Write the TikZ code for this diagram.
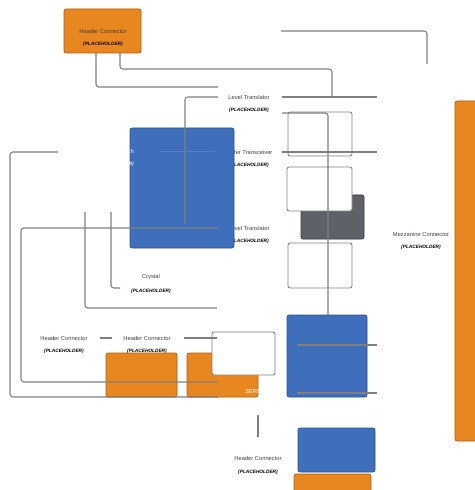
\documentclass[tikz,border=0pt]{standalone}
\usepackage{fontspec}
\setmainfont{Liberation Sans}
\usepackage{xcolor}
\pgfdeclarelayer{textlayer}
\pgfdeclarelayer{nodelayer}
\pgfdeclarelayer{edgelayer}
\pgfsetlayers{textlayer,nodelayer,main,edgelayer}
\definecolor{boxorange}{HTML}{E8871F}
\definecolor{orangeline}{HTML}{A85E14}
\definecolor{boxblue}{HTML}{3F6FBA}
\definecolor{blueline}{HTML}{2C5292}
\definecolor{boxdark}{HTML}{5E6268}
\definecolor{darkline}{HTML}{35383C}
\definecolor{wiregray}{HTML}{7F7F7F}
\definecolor{labelgray}{HTML}{404040}
\tikzset{
	orange box/.style={draw=orangeline, fill=boxorange, rounded corners=1.5pt, inner sep=0pt, outer sep=0pt, line width=0.5pt},
	blue box/.style={draw=blueline, fill=boxblue, rounded corners=1.5pt, inner sep=0pt, outer sep=0pt, line width=0.5pt},
	dark box/.style={draw=darkline, fill=boxdark, rounded corners=1.5pt, inner sep=0pt, outer sep=0pt, line width=0.5pt},
	white box/.style={draw=wiregray, fill=white, rounded corners=1.5pt, inner sep=0pt, outer sep=0pt, line width=0.6pt},
	lbl/.style={text=labelgray, font=\fontsize{4.1}{5}\selectfont, inner sep=0pt},
	ph/.style={text=black, font=\bfseries\itshape\fontsize{3.4}{4}\selectfont, inner sep=0pt},
	wlbl/.style={text=white, font=\fontsize{4.1}{5}\selectfont, inner sep=0pt},
	wire/.style={draw=wiregray, line width=0.75pt, rounded corners=2pt}
}
\begin{document}
\begin{tikzpicture}
	\useasboundingbox (0, 0) rectangle (11.85, -12.25);
	\begin{pgfonlayer}{textlayer}
		\node [style=lbl] (13) at (6.225, -2.425) {Level Translator};
		\node [style=ph] (14) at (6.225, -2.75) {(PLACEHOLDER)};
		\node [style=lbl] (15) at (6.225, -3.8) {Buffer Transceiver};
		\node [style=ph] (16) at (6.225, -4.125) {(PLACEHOLDER)};
		\node [style=lbl] (17) at (6.225, -5.7) {Level Translator};
		\node [style=ph] (18) at (6.225, -6.025) {(PLACEHOLDER)};
		\node [style=lbl] (19) at (10.525, -5.85) {Mezzanine Connector};
		\node [style=ph] (20) at (10.525, -6.175) {(PLACEHOLDER)};
		\node [style=lbl] (21) at (3.775, -6.925) {Crystal};
		\node [style=ph] (22) at (3.775, -7.275) {(PLACEHOLDER)};
		\node [style=lbl] (23) at (1.6, -8.45) {Header Connector};
		\node [style=ph] (24) at (1.6, -8.775) {(PLACEHOLDER)};
		\node [style=lbl] (25) at (3.675, -8.45) {Header Connector};
		\node [style=ph] (26) at (3.675, -8.775) {(PLACEHOLDER)};
		\node [style=lbl] (27) at (6.45, -11.45) {Header Connector};
		\node [style=ph] (28) at (6.45, -11.8) {(PLACEHOLDER)};
	\end{pgfonlayer}
	\begin{pgfonlayer}{nodelayer}
		\node [style=orange box, minimum width=1.925cm, minimum height=1.1cm] (0) at (2.5625, -0.775) {};
		\node [style=blue box, minimum width=2.6cm, minimum height=3cm] (1) at (4.55, -4.7) {};
		\node [style=dark box, minimum width=1.575cm, minimum height=1.1cm] (2) at (8.3125, -5.425) {};
		\node [style=white box, minimum width=1.6cm, minimum height=1.1cm] (3) at (8, -3.35) {};
		\node [style=white box, minimum width=1.625cm, minimum height=1.1cm] (4) at (7.9875, -4.725) {};
		\node [style=white box, minimum width=1.6cm, minimum height=1.125cm] (5) at (8, -6.6375) {};
		\node [style=orange box, minimum width=1.775cm, minimum height=1.1cm] (6) at (3.5375, -9.375) {};
		\node [style=orange box, minimum width=1.775cm, minimum height=1.1cm] (7) at (5.5625, -9.375) {};
		\node [style=white box, minimum width=1.575cm, minimum height=1.075cm] (8) at (6.0875, -8.8375) {};
		\node [style=blue box, minimum width=2cm, minimum height=2.05cm] (9) at (8.175, -8.9) {};
		\node [style=orange box, minimum width=0.875cm, minimum height=8.5cm] (10) at (11.8125, -6.775) {};
		\node [style=blue box, minimum width=1.925cm, minimum height=1.1cm] (11) at (8.4125, -11.25) {};
		\node [style=orange box, minimum width=1.925cm, minimum height=1.1cm] (12) at (8.3125, -12.4) {};
	\end{pgfonlayer}
	\node [style=lbl] (29) at (2.575, -0.775) {Header Connector};
	\node [style=ph] (30) at (2.575, -1.1) {(PLACEHOLDER)};
	\node [style=wlbl, anchor=east] (31) at (3.35, -3.775) {Switch};
	\node [style=wlbl, anchor=east] (32) at (3.35, -4.1) {\bfseries\itshape\fontsize{3.4}{4}\selectfont (PLACEHOLDER)};
	\node [style=wlbl, anchor=west] (33) at (6.125, -9.8) {SERIAL};
	\begin{pgfonlayer}{nodelayer}
		\node [] (40) at (2.4, -1.325) {};
		\node [] (41) at (2.4, -2.175) {};
		\node [] (42) at (5.45, -2.175) {};
		\node [] (43) at (3, -1.325) {};
		\node [] (44) at (3, -1.725) {};
		\node [] (45) at (8.3, -1.725) {};
		\node [] (46) at (8.3, -2.425) {};
		\node [] (47) at (7.05, -2.425) {};
		\node [] (48) at (9.425, -2.425) {};
		\node [] (49) at (7.025, -0.775) {};
		\node [] (50) at (10.675, -0.775) {};
		\node [] (51) at (10.675, -1.6) {};
		\node [] (52) at (5.45, -2.425) {};
		\node [] (53) at (4.625, -2.425) {};
		\node [] (54) at (4.625, -5.6) {};
		\node [] (55) at (7.05, -2.825) {};
		\node [] (56) at (8.2, -2.825) {};
		\node [] (57) at (8.2, -7.875) {};
		\node [] (58) at (7.05, -3.8) {};
		\node [] (59) at (9.425, -3.8) {};
		\node [] (60) at (1.45, -3.8) {};
		\node [] (61) at (0.25, -3.8) {};
		\node [] (62) at (0.25, -9.925) {};
		\node [] (63) at (5.45, -9.925) {};
		\node [] (64) at (5.45, -5.7) {};
		\node [] (65) at (0.525, -5.7) {};
		\node [] (66) at (0.525, -9.55) {};
		\node [] (67) at (5.45, -9.55) {};
		\node [] (68) at (2.125, -5.3) {};
		\node [] (69) at (2.125, -7.7) {};
		\node [] (70) at (5.425, -7.7) {};
		\node [] (71) at (2.775, -5.3) {};
		\node [] (72) at (2.775, -7.2) {};
		\node [] (73) at (3, -7.2) {};
		\node [] (74) at (2.5, -8.45) {};
		\node [] (75) at (2.8, -8.45) {};
		\node [] (76) at (4.6, -8.45) {};
		\node [] (77) at (5.425, -8.45) {};
		\node [] (78) at (7.425, -8.625) {};
		\node [] (79) at (9.425, -8.625) {};
		\node [] (80) at (7.425, -9.825) {};
		\node [] (81) at (9.425, -9.825) {};
		\node [] (82) at (6.45, -10.375) {};
		\node [] (83) at (6.45, -10.925) {};
		\node [] (84) at (4, -3.775) {};
		\node [] (85) at (5.375, -3.775) {};
	\end{pgfonlayer}
	\draw [draw=boxblue!88!white, line width=0.6pt] (84.center) -- (85.center);
	\begin{pgfonlayer}{edgelayer}
		\draw [style=wire] (40.center) -- (41.center) -- (42.center);
		\draw [style=wire] (43.center) -- (44.center) -- (45.center) -- (46.center);
		\draw [style=wire] (47.center) -- (48.center);
		\draw [style=wire] (49.center) -- (50.center) -- (51.center);
		\draw [style=wire] (52.center) -- (53.center) -- (54.center);
		\draw [style=wire] (55.center) -- (56.center) -- (57.center);
		\draw [style=wire] (58.center) -- (59.center);
		\draw [style=wire] (60.center) -- (61.center) -- (62.center) -- (63.center);
		\draw [style=wire] (64.center) -- (65.center) -- (66.center) -- (67.center);
		\draw [style=wire] (68.center) -- (69.center) -- (70.center);
		\draw [style=wire] (71.center) -- (72.center) -- (73.center);
		\draw [style=wire] (74.center) -- (75.center);
		\draw [style=wire] (76.center) -- (77.center);
		\draw [style=wire] (78.center) -- (79.center);
		\draw [style=wire] (80.center) -- (81.center);
		\draw [style=wire] (82.center) -- (83.center);
	\end{pgfonlayer}
\end{tikzpicture}
\end{document}
